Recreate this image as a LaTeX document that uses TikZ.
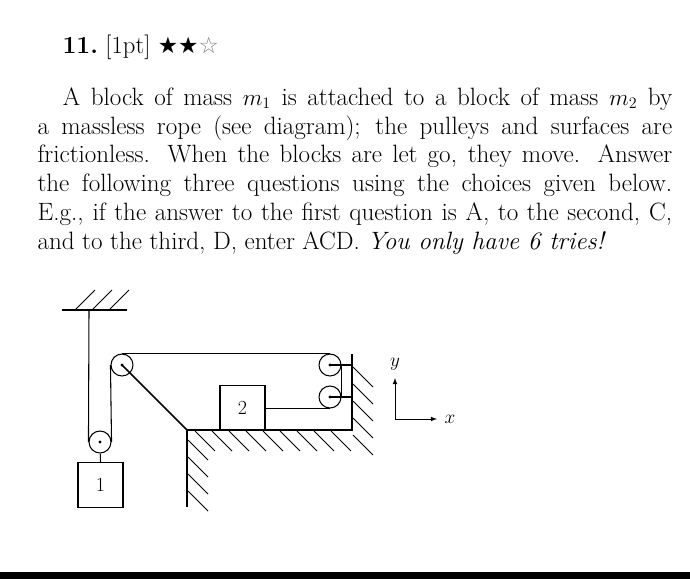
\documentclass[tikz,border=0pt]{standalone}
\usepackage{fontspec}
\newfontfamily\sym{DejaVu Sans}
\begin{document}
\begin{tikzpicture}[x=0.75pt,y=-0.75pt,line width=0.8pt,
  pul/.style={circle,draw,minimum size=22*0.75pt,inner sep=0pt},
  blk/.style={draw,minimum size=45*0.75pt,inner sep=0pt,font=\fontsize{15}{17}\selectfont},
  hat/.style={line width=0.6pt}]
\useasboundingbox (0,0) rectangle (690,579);
\fill (0,572) rectangle (690,579);
\node[anchor=base west,inner sep=0pt,font=\fontsize{18.5}{22}\selectfont] (title) at (62,53) {\textbf{11.}\ [1pt]\ {\sym\fontsize{17}{20}\selectfont ★★\textcolor{gray}{☆}}};
\node[anchor=north west,inner sep=0pt,text width=476pt,align=justify,font=\fontsize{18.8}{21.6}\selectfont] (para) at (37,87) {\hspace*{19pt}A block of mass $m_1$ is attached to a block of mass $m_2$ by\linebreak a massless rope (see diagram); the pulleys and surfaces are\linebreak frictionless. When the blocks are let go, they move. Answer\linebreak the following three questions using the choices given below.\linebreak E.g., if the answer to the first question is A, to the second, C,\linebreak and to the third, D, enter ACD. \textit{You only have 6 tries!}};
% ceiling
\coordinate (c1) at (62,310); \coordinate (c2) at (127,310);
\draw (c1) -- (c2);
\foreach \x in {75,92,109} \draw[hat] (\x,310) -- (\x+20,290);
% pulleys
\node[pul] (pA) at (100,442) {};
\node[pul] (pB) at (122,365) {};
\node[pul] (pC) at (330,365) {};
\node[pul] (pD) at (330,397) {};
\foreach \p in {pA,pB,pC,pD} \fill (\p) circle (1.3pt);
% blocks
\node[blk] (b1) at (100.5,485) {1};
\node[blk] (b2) at (242.5,408) {2};
% walls
\coordinate (wt) at (352,354); \coordinate (wc) at (352,430);
\coordinate (fc) at (187,430); \coordinate (fb) at (187,507);
\draw[line width=1pt] (wt) -- (wc) -- (fc) -- (fb);
\foreach \x in {195,212,...,340} \draw[hat] (\x,431) -- (\x+20,451);
\foreach \y in {367,384,401,418,435} \draw[hat] (353,\y) -- (373,\y+20);
\foreach \y in {440,457,474,491} \draw[hat] (188,\y) -- (208,\y+20);
% ropes
\draw (89,310) -- (pA.west);
\draw (pA.east) -- (pB.west);
\draw (pB.north) -- (pC.north);
\draw (pC.east) -- (pD.east);
\draw (pD.south) -- (b2.east |- pD.south);
\draw (pA) -- (b1.north);
\draw[line width=1.1pt] (pB.center) -- (fc);
\draw (pC.center) -- (352,365);
\draw (pD.center) -- (352,397);
% axes
\coordinate (o) at (395,419);
\draw[-latex,line width=0.6pt] (o) -- (395,378) node[above=2pt,font=\fontsize{14}{16}\selectfont] (ly) {$y$};
\draw[-latex,line width=0.6pt] (o) -- (437,419) node[right=2pt,font=\fontsize{14}{16}\selectfont] (lx) {$x$};
\end{tikzpicture}
\end{document}
